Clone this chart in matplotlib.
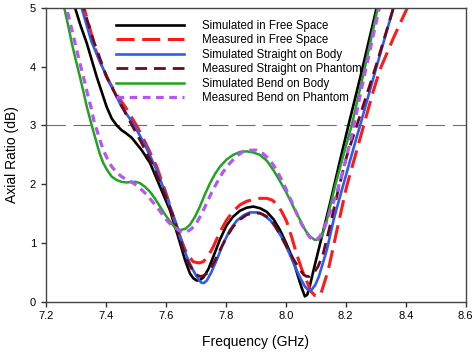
import matplotlib
matplotlib.use("Agg")
import matplotlib.pyplot as plt

plt.rcParams['font.family'] = ['Liberation Sans', 'DejaVu Sans']
plt.rcParams['lines.scale_dashes'] = False

# Simulated in Free Space
f_sim_free = [7.290, 7.298, 7.315, 7.337, 7.370, 7.403, 7.420, 7.437, 7.453, 7.470,
              7.487, 7.520, 7.548, 7.581, 7.614, 7.642, 7.665, 7.681, 7.692, 7.703,
              7.714, 7.725, 7.742, 7.759, 7.780, 7.803, 7.825, 7.848, 7.870, 7.892,
              7.915, 7.937, 7.960, 7.981, 8.003, 8.025, 8.040, 8.053, 8.064, 8.072,
              8.081, 8.092, 8.120, 8.148, 8.180, 8.209, 8.250, 8.303, 8.318]
ar_sim_free = [5.3, 5.0, 4.72, 4.40, 3.83, 3.32, 3.12, 3.00, 2.92, 2.86,
               2.79, 2.58, 2.36, 1.96, 1.56, 1.10, 0.70, 0.48, 0.40, 0.36,
               0.37, 0.41, 0.55, 0.77, 1.05, 1.30, 1.45, 1.55, 1.60, 1.62,
               1.59, 1.53, 1.40, 1.22, 0.98, 0.71, 0.45, 0.24, 0.09, 0.12,
               0.28, 0.52, 1.10, 1.68, 2.38, 3.0, 3.85, 5.0, 5.3]

# Measured in Free Space
f_meas_free = [7.318, 7.328, 7.350, 7.370, 7.392, 7.414, 7.440, 7.470, 7.505, 7.535,
               7.570, 7.603, 7.625, 7.648, 7.670, 7.692, 7.710, 7.725, 7.742, 7.759,
               7.780, 7.803, 7.825, 7.848, 7.870, 7.892, 7.915, 7.937, 7.955, 7.970,
               7.985, 8.003, 8.020, 8.036, 8.053, 8.070, 8.085, 8.098, 8.109, 8.118,
               8.125, 8.142, 8.170, 8.203, 8.237, 8.260, 8.290, 8.314, 8.360, 8.405,
               8.430]
ar_meas_free = [5.3, 5.0, 4.60, 4.23, 3.95, 3.72, 3.50, 3.28, 2.98, 2.68,
                2.30, 1.82, 1.45, 1.10, 0.82, 0.68, 0.66, 0.68, 0.78, 0.94,
                1.18, 1.39, 1.54, 1.65, 1.71, 1.74, 1.76, 1.76, 1.73, 1.66,
                1.55, 1.37, 1.10, 0.82, 0.56, 0.35, 0.17, 0.10, 0.09, 0.15,
                0.26, 0.54, 1.20, 1.96, 2.58, 3.0, 3.55, 3.95, 4.50, 5.0,
                5.3]

# Simulated Straight on Body
f_sim_straight = [7.310, 7.320, 7.353, 7.403, 7.450, 7.495, 7.530, 7.570, 7.603, 7.637,
                  7.655, 7.670, 7.687, 7.703, 7.712, 7.720, 7.728, 7.737, 7.752, 7.770,
                  7.790, 7.814, 7.837, 7.859, 7.880, 7.903, 7.925, 7.948, 7.970, 7.992,
                  8.014, 8.036, 8.050, 8.064, 8.075, 8.086, 8.098, 8.110, 8.137, 8.160,
                  8.181, 8.210, 8.237, 8.248, 8.300, 8.359, 8.375]
ar_sim_straight = [5.3, 5.0, 4.42, 3.83, 3.35, 3.0, 2.68, 2.24, 1.79, 1.30,
                   1.00, 0.77, 0.58, 0.43, 0.36, 0.32, 0.32, 0.36, 0.50, 0.71,
                   0.97, 1.22, 1.38, 1.47, 1.52, 1.52, 1.48, 1.39, 1.24, 1.05,
                   0.80, 0.54, 0.39, 0.26, 0.20, 0.20, 0.28, 0.42, 0.88, 1.40,
                   1.79, 2.32, 2.81, 3.0, 3.95, 5.0, 5.3]

# Measured Straight on Phantom
f_meas_straight = [7.318, 7.326, 7.359, 7.403, 7.448, 7.487, 7.520, 7.559, 7.592, 7.625,
                   7.645, 7.659, 7.675, 7.692, 7.703, 7.714, 7.725, 7.737, 7.758, 7.781,
                   7.803, 7.825, 7.848, 7.870, 7.892, 7.914, 7.937, 7.959, 7.980, 8.003,
                   8.025, 8.048, 8.060, 8.070, 8.080, 8.092, 8.108, 8.125, 8.148, 8.175,
                   8.203, 8.237, 8.300, 8.359, 8.375]
ar_meas_straight = [5.3, 5.0, 4.45, 3.83, 3.38, 3.01, 2.70, 2.30, 1.90, 1.45,
                    1.12, 0.88, 0.66, 0.52, 0.46, 0.43, 0.44, 0.48, 0.64, 0.88,
                    1.10, 1.28, 1.40, 1.48, 1.51, 1.51, 1.45, 1.34, 1.15, 0.94,
                    0.73, 0.54, 0.46, 0.43, 0.43, 0.48, 0.60, 0.82, 1.30, 1.90,
                    2.47, 3.0, 4.0, 5.0, 5.3]

# Simulated Bend on Body
f_sim_bend = [7.255, 7.262, 7.275, 7.287, 7.300, 7.314, 7.326, 7.337, 7.353, 7.370,
              7.380, 7.392, 7.405, 7.420, 7.437, 7.453, 7.470, 7.487, 7.500, 7.514,
              7.530, 7.548, 7.565, 7.581, 7.597, 7.614, 7.630, 7.648, 7.665, 7.681,
              7.698, 7.714, 7.730, 7.748, 7.765, 7.781, 7.803, 7.825, 7.848, 7.870,
              7.892, 7.914, 7.937, 7.959, 7.980, 8.003, 8.025, 8.048, 8.065, 8.081,
              8.098, 8.110, 8.120, 8.134, 8.148, 8.165, 8.181, 8.200, 8.220, 8.260,
              8.307, 8.322]
ar_sim_bend = [5.3, 5.0, 4.70, 4.40, 4.12, 3.83, 3.57, 3.32, 3.01, 2.70,
               2.52, 2.36, 2.24, 2.13, 2.07, 2.04, 2.03, 2.04, 2.04, 2.02,
               1.96, 1.87, 1.75, 1.62, 1.49, 1.37, 1.27, 1.22, 1.24, 1.31,
               1.45, 1.62, 1.82, 2.02, 2.18, 2.30, 2.42, 2.50, 2.55, 2.56,
               2.54, 2.50, 2.40, 2.24, 2.06, 1.85, 1.62, 1.39, 1.22, 1.11,
               1.05, 1.06, 1.11, 1.32, 1.62, 1.98, 2.28, 2.64, 3.0, 3.90,
               5.0, 5.3]

# Measured Bend on Phantom
f_meas_bend = [7.264, 7.270, 7.276, 7.290, 7.303, 7.317, 7.331, 7.342, 7.353, 7.362,
               7.370, 7.381, 7.392, 7.405, 7.420, 7.437, 7.453, 7.472, 7.492, 7.515,
               7.537, 7.553, 7.570, 7.587, 7.603, 7.620, 7.642, 7.656, 7.670, 7.686,
               7.703, 7.720, 7.737, 7.753, 7.770, 7.790, 7.814, 7.837, 7.859, 7.880,
               7.903, 7.925, 7.948, 7.970, 7.992, 8.014, 8.036, 8.053, 8.070, 8.080,
               8.092, 8.103, 8.114, 8.128, 8.142, 8.170, 8.192, 8.214, 8.225, 8.260,
               8.312, 8.327]
ar_meas_bend = [5.3, 5.0, 4.86, 4.57, 4.29, 4.0, 3.72, 3.48, 3.27, 3.05,
                2.93, 2.75, 2.58, 2.44, 2.30, 2.20, 2.13, 2.07, 2.02, 1.93,
                1.82, 1.72, 1.62, 1.50, 1.39, 1.30, 1.22, 1.18, 1.19, 1.24,
                1.34, 1.50, 1.68, 1.86, 2.02, 2.20, 2.36, 2.48, 2.56, 2.58,
                2.58, 2.52, 2.41, 2.24, 2.02, 1.77, 1.51, 1.32, 1.17, 1.10,
                1.05, 1.06, 1.11, 1.25, 1.45, 1.85, 2.25, 2.70, 2.95, 3.80,
                5.0, 5.3]

x_ticks = [7.2, 7.4, 7.6, 7.8, 8.0, 8.2, 8.4, 8.6]
y_ticks = [0, 1, 2, 3, 4, 5]
ar_limit = 3

fig = plt.figure(figsize=(4.74, 3.53), dpi=100)
ax = fig.add_axes([0.0964, 0.1453, 0.8861, 0.832])

ax.axhline(ar_limit, color='#6e6e6e', linewidth=0.8, linestyle=(0, (14, 5.5)), zorder=1)

ax.plot(f_sim_free, ar_sim_free, color='black', linewidth=1.9,
        label='Simulated in Free Space')
ax.plot(f_meas_free, ar_meas_free, color='#ff1a1a', linewidth=2.2,
        linestyle=(0, (13, 5.5)), label='Measured in Free Space')
ax.plot(f_sim_straight, ar_sim_straight, color='#2f5cf0', linewidth=1.9,
        label='Simulated Straight on Body')
ax.plot(f_meas_straight, ar_meas_straight, color='#6a0a1a', linewidth=2.0,
        linestyle=(0, (8.5, 5)), label='Measured Straight on Phantom')
ax.plot(f_sim_bend, ar_sim_bend, color='#22a322', linewidth=1.8,
        label='Simulated Bend on Body')
ax.plot(f_meas_bend, ar_meas_bend, color='#b455f5', linewidth=2.3,
        linestyle=(0, (5.5, 4)), label='Measured Bend on Phantom')

ax.set_xlim(7.2, 8.6)
ax.set_ylim(0, 5)
ax.set_xticks(x_ticks)
ax.set_xticklabels([f"{v:.1f}" for v in x_ticks])
ax.set_yticks(y_ticks)
ax.tick_params(direction='out', length=3.5, width=1.0, labelsize=8,
               colors='#333333', labelcolor='black')
for s in ax.spines.values():
    s.set_color('#444444')
    s.set_linewidth(1.0)

ax.set_xlabel('Frequency (GHz)', fontsize=10, labelpad=10)
ax.set_ylabel('Axial Ratio (dB)', fontsize=10, labelpad=8)

ax.legend(loc='upper left', bbox_to_anchor=(116 / 474, 1 - 20 / 353),
          bbox_transform=fig.transFigure, frameon=False, fontsize=8.3,
          handlelength=5.9, handletextpad=1.6, labelspacing=0.21,
          borderpad=0, borderaxespad=0)

fig.savefig('out.png', dpi=100)
